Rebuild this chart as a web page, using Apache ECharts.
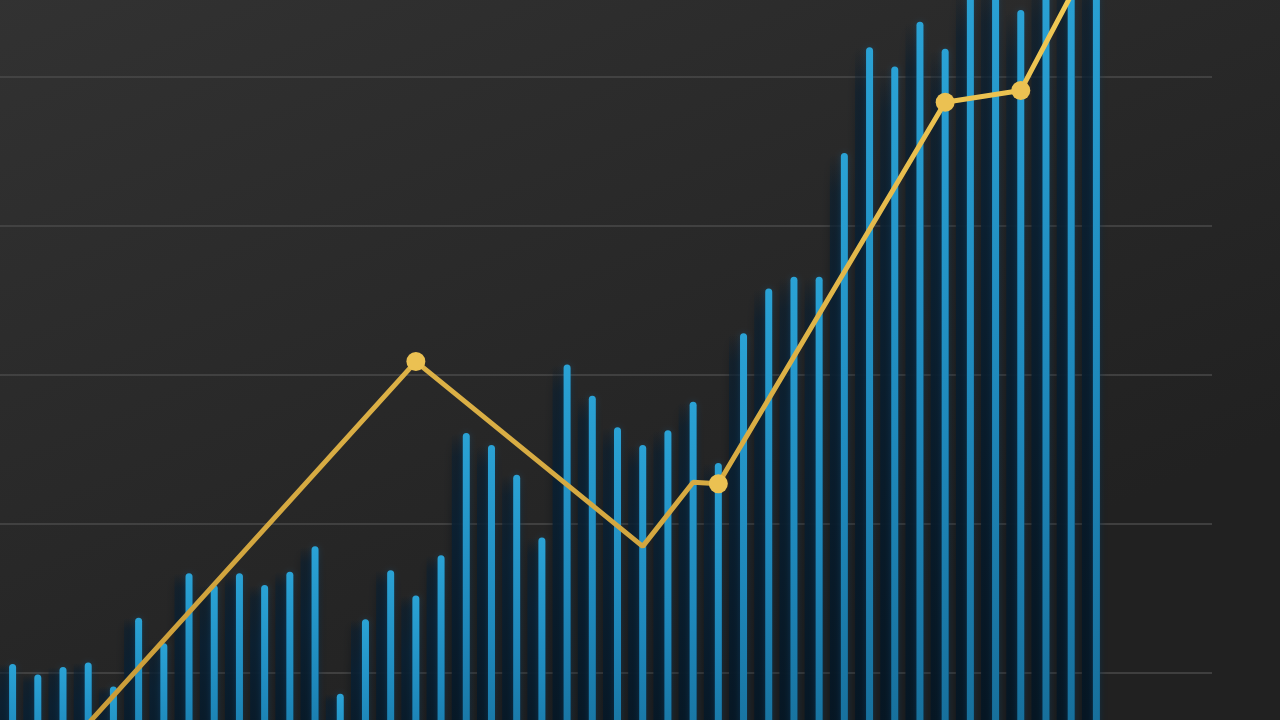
<!DOCTYPE html>
<html>
<head>
<meta charset="utf-8">
<style>
html,body{margin:0;padding:0;width:1280px;height:720px;overflow:hidden;background:#2a2a2a;position:relative;}
#chart{position:absolute;left:0;top:-72px;width:1280px;height:894px;}
</style>
<script src="https://cdn.jsdelivr.net/npm/echarts@6/dist/echarts.min.js"></script>
</head>
<body>
<div id="chart"></div>
<script>
// Categories (periods, unlabeled in the picture)
var categories = ['1','2','3','4','5','6','7','8','9','10','11','12','13','14','15','16','17','18','19','20','21','22','23','24','25','26','27','28','29','30','31','32','33','34','35','36','37','38','39','40','41','42','43','44'];

// Bar heights
var barValues = [10.6, 9.9, 10.4, 10.7, 9.1, 13.7, 12.0, 16.7, 15.9, 16.7, 15.9, 16.8, 18.5, 8.6, 13.6, 16.9, 15.2, 17.9,
                 26.1, 25.3, 23.3, 19.1, 30.7, 28.6, 26.5, 25.3, 26.3, 28.2, 24.1, 32.8, 35.8, 36.6, 36.6, 44.9,
                 52.0, 50.7, 53.7, 51.9, 56.0, 57.0, 54.5, 57.0, 58.0, 58.0];

// Trend line values (null = no vertex at that period)
var lineValues = [null, null, null, 6.6, null, null, null, null, null, null, null, null, null, null, null, null, 30.9, null,
                  null, null, null, null, null, null, null, 18.5, null, 22.8, 22.7, null, null, null, null, null,
                  null, null, null, 48.3, null, null, 49.1, null, 55.5, null];

// Periods whose trend vertex is marked with a dot
var markedPoints = [16, 28, 37, 40];

// Value axis ticks
var yMin = 0, yMax = 60, yStep = 10;

var lineData = lineValues.map(function (v, i) {
  if (v === null) return null;
  return markedPoints.indexOf(i) >= 0 ? { value: v } : { value: v, symbol: 'none' };
});

var chart = echarts.init(document.getElementById('chart'), null, { renderer: 'canvas' });
chart.setOption({
  animation: false,
  backgroundColor: {
    type: 'linear', x: 0, y: 0, x2: 0.3, y2: 1,
    colorStops: [{ offset: 0, color: '#333333' }, { offset: 1, color: '#212121' }]
  },
  grid: [
    { left: 0, right: 68, top: 0, bottom: 0 },
    { left: -2, right: 171, top: 0, bottom: 0 }
  ],
  xAxis: [
    { gridIndex: 0, type: 'value', show: false, min: 0, max: 1 },
    { gridIndex: 1, type: 'category', data: categories, show: false, boundaryGap: true }
  ],
  yAxis: [
    { gridIndex: 0, type: 'value', min: yMin, max: yMax, interval: yStep,
      axisLine: { show: false }, axisTick: { show: false }, axisLabel: { show: false },
      splitLine: { show: true, lineStyle: { color: '#4a4a4a', width: 1.5 } } },
    { gridIndex: 1, type: 'value', min: yMin, max: yMax, interval: yStep, show: false,
      splitLine: { show: false } }
  ],
  series: [
    {
      name: 'bars',
      type: 'bar',
      xAxisIndex: 1, yAxisIndex: 1,
      data: barValues,
      barWidth: 7,
      barGap: '-257%',
      itemStyle: {
        borderRadius: [3.5, 3.5, 0, 0],
        color: {
          type: 'linear', x: 0, y: 0, x2: 0, y2: 1, global: false,
          colorStops: [
            { offset: 0, color: '#2aa2d5' },
            { offset: 0.5, color: '#1e88bb' },
            { offset: 1, color: '#156892' }
          ]
        },
        shadowColor: 'rgba(20,110,170,0.3)',
        shadowBlur: 6
      },
      z: 3
    },
    {
      name: 'bar shade',
      type: 'bar',
      xAxisIndex: 1, yAxisIndex: 1,
      data: barValues,
      barWidth: 18,
      barGap: '-257%',
      silent: true,
      itemStyle: {
        color: {
          type: 'linear', x: 0, y: 0, x2: 0, y2: 1, global: false,
          colorStops: [
            { offset: 0, color: 'rgba(10,32,50,0)' },
            { offset: 0.06, color: 'rgba(10,32,50,0.55)' },
            { offset: 0.25, color: 'rgba(10,32,50,0.9)' },
            { offset: 1, color: 'rgba(5,20,32,1)' }
          ]
        },
        shadowColor: 'rgba(0,10,20,0.5)',
        shadowBlur: 10
      },
      z: 2
    },
    {
      type: 'line',
      xAxisIndex: 1, yAxisIndex: 1,
      data: lineData,
      connectNulls: true,
      symbol: 'circle',
      symbolSize: 19,
      showSymbol: true,
      lineStyle: {
        width: 5,
        color: {
          type: 'linear', x: 0, y: 1, x2: 0, y2: 0, global: false,
          colorStops: [{ offset: 0, color: '#c99b38' }, { offset: 1, color: '#f1c955' }]
        }
      },
      itemStyle: { color: '#ebc152' },
      z: 5
    }
  ]
});
</script>
</body>
</html>
